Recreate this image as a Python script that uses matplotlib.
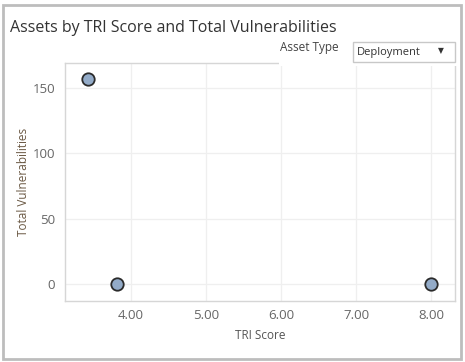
import matplotlib
matplotlib.use('Agg')
import matplotlib.pyplot as plt
from matplotlib.patches import Rectangle

plt.rcParams['font.family'] = ['Open Sans', 'DejaVu Sans']

# ─── Data ───
tri_score = [3.43, 3.82, 8.00]
total_vulns = [157, 0, 0]
x_ticks = [4, 5, 6, 7, 8]
y_ticks = [0, 50, 100, 150]

W, H = 465, 362
fig = plt.figure(figsize=(W / 100, H / 100), dpi=100)

# outer frame
fig.patches.append(Rectangle((3 / W, 3 / H), 458 / W, 354 / H, transform=fig.transFigure,
                             fill=False, edgecolor='#bdbdbd', linewidth=2))

ax = fig.add_axes([65 / W, 1 - 301 / H, 390 / W, 238 / H])
ax.scatter(tri_score, total_vulns, s=80, color='#93abc8', edgecolor='#2b2b2b',
           linewidth=1.3, zorder=3)

ax.set_xlim(3.12, 8.32)
ax.set_ylim(-13, 169)
ax.set_xticks(x_ticks)
ax.set_xticklabels([f'{v:.2f}' for v in x_ticks])
ax.set_yticks(y_ticks)
ax.grid(True, color='#efefef', linewidth=0.9)
ax.set_axisbelow(True)
for s in ax.spines.values():
    s.set_color('#d6d6d6')
    s.set_linewidth(1)
ax.tick_params(axis='y', length=0, labelsize=9.5, labelcolor='#666666', pad=7)
ax.tick_params(axis='x', length=0, labelsize=9.5, labelcolor='#666666', pad=6)
ax.set_xlabel('TRI Score', fontsize=8.5, color='#555555', labelpad=5)
ax.set_ylabel('Total Vulnerabilities', fontsize=8.5, color='#6a5843', labelpad=2)

# title
fig.text(10 / W, 1 - 28 / H, 'Assets by TRI Score and Total Vulnerabilities',
         fontsize=11.5, color='#333333', va='center', ha='left')

# white cover for filter area
fig.patches.append(Rectangle((279 / W, 1 - 66 / H), 180 / W, 28 / H, transform=fig.transFigure,
                             facecolor='white', edgecolor='none', zorder=5))
fig.text(280 / W, 1 - 48 / H, 'Asset Type', fontsize=8.5, color='#444444',
         va='center', ha='left', zorder=6)
fig.patches.append(Rectangle((353 / W, 1 - 62 / H), 102 / W, 20 / H, transform=fig.transFigure,
                             facecolor='white', edgecolor='#c8c8c8', linewidth=1, zorder=6))
fig.text(357 / W, 1 - 52 / H, 'Deployment', fontsize=8, color='#333333',
         va='center', ha='left', zorder=7)
fig.text(441 / W, 1 - 51 / H, '▼', fontsize=5.5, color='#333333',
         va='center', ha='center', zorder=7, family='DejaVu Sans')

fig.savefig('out.png', dpi=100)
